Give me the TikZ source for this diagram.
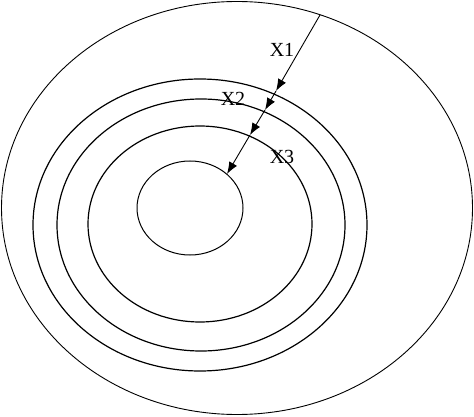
\documentclass[tikz,border=0pt]{standalone}
\usepackage{fontspec}
\setmainfont{Liberation Serif}
\usetikzlibrary{arrows.meta}
\begin{document}
\begin{tikzpicture}[x=1pt,y=-1pt]
\useasboundingbox (0,0) rectangle (474,417);
\draw[line width=0.9pt] (237,208) ellipse [x radius=235.5, y radius=206.5];
\draw[line width=1.2pt] (200,225) ellipse [x radius=167, y radius=146];
\draw[line width=1.2pt] (201,225) ellipse [x radius=144, y radius=126];
\draw[line width=1.2pt] (200,224) ellipse [x radius=112, y radius=98];
\draw[line width=1.0pt] (190,208) ellipse [x radius=53, y radius=47];
\coordinate (p0) at (320,15);
\coordinate (p1) at (276,91);
\coordinate (p2) at (265,110);
\coordinate (p3) at (250,135);
\coordinate (p4) at (227,174);
\draw[line width=0.9pt,-{Latex[length=12pt,width=9pt]}](p0) -- (p1);
\draw[line width=0.9pt,-{Latex[length=12pt,width=9pt]}](p1) -- (p2);
\draw[line width=0.9pt,-{Latex[length=12pt,width=9pt]}](p2) -- (p3);
\draw[line width=0.9pt,-{Latex[length=12pt,width=9pt]}](p3) -- (p4);
\node[font=\fontsize{20}{20}\selectfont, inner sep=0] (x1) at (282,50){X1};
\node[font=\fontsize{20}{20}\selectfont, inner sep=0] (x2) at (233,99){X2};
\node[font=\fontsize{20}{20}\selectfont, inner sep=0] (x3) at (282,157){X3};
\end{tikzpicture}
\end{document}
